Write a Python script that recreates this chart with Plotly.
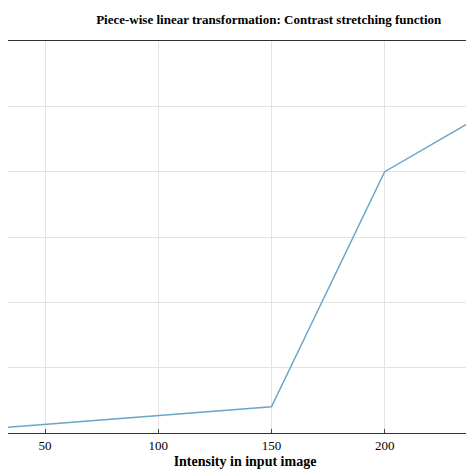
import plotly.graph_objects as go

# contrast stretching control points
r_in = [0, 150, 200, 255]
s_out = [0, 20, 200, 255]
x_ticks = [50, 100, 150, 200]

fig = go.Figure(go.Scatter(x=r_in, y=s_out, mode='lines',
                           line=dict(color='#6aa6c8', width=1.5)))

fig.update_layout(
    width=474, height=474,
    paper_bgcolor='white', plot_bgcolor='white',
    margin=dict(l=0, r=0, t=33, b=49, pad=0, autoexpand=False),
    showlegend=False,
    title=dict(text='<b>Piece-wise linear transformation: Contrast stretching function</b>',
               x=0.55, y=0.985, xanchor='center', yanchor='top',
               font=dict(family='Liberation Serif', size=13, color='black')),
    font=dict(family='Liberation Serif', size=13, color='black'),
)
fig.update_xaxes(range=[33.6, 243], tickvals=x_ticks, showgrid=True,
                 gridcolor='#e3e3e3', showline=True, linecolor='#333', mirror=True,
                 ticks='inside', ticklen=4,
                 title=dict(text='<b>Intensity in input image</b>', standoff=4,
                            font=dict(size=14)),
                 tickfont=dict(size=13))
fig.update_yaxes(range=[0, 300], dtick=50, showgrid=True, gridcolor='#e3e3e3',
                 showticklabels=False, showline=True, linecolor='#333', mirror=True,
                 zeroline=False)

fig.write_html("out.html")
